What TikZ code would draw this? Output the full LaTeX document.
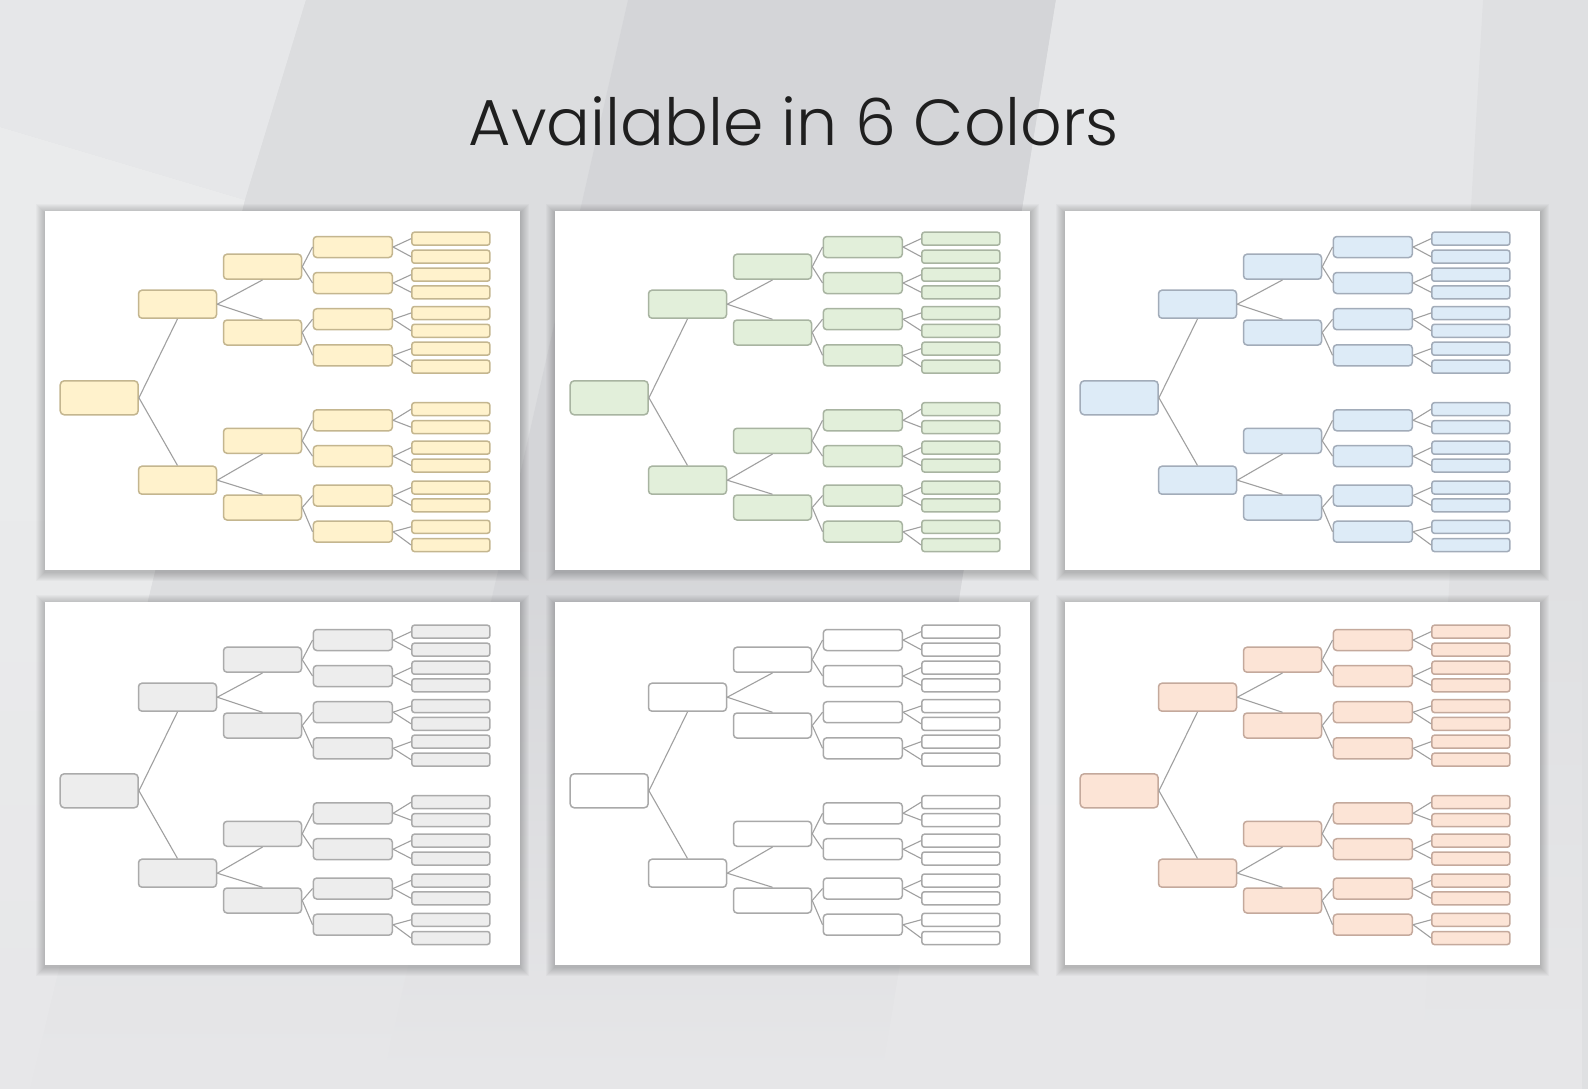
\documentclass[tikz,border=0pt]{standalone}
\usepackage{fontspec}
\newfontfamily\titlefont{Poppins Light}
\usetikzlibrary{fadings}
\definecolor{bgbase}{HTML}{E0E1E3}
\definecolor{bgA}{HTML}{E6E7E9}
\definecolor{bgB}{HTML}{EAEBEC}
\definecolor{bgC}{HTML}{DCDDDF}
\definecolor{bgD}{HTML}{D4D5D8}
\definecolor{bgE}{HTML}{E5E6E8}
\definecolor{bgF}{HTML}{E7E7E9}
\definecolor{lnc}{HTML}{A0A0A0}
\definecolor{yfill}{HTML}{FFF2CC}\definecolor{ybord}{HTML}{C4B68F}
\definecolor{gfill}{HTML}{E2EFDA}\definecolor{gbord}{HTML}{A8B4A1}
\definecolor{bfill}{HTML}{DDEBF7}\definecolor{bbord}{HTML}{A2ACB9}
\definecolor{kfill}{HTML}{EDEDED}\definecolor{kbord}{HTML}{ABABAB}
\definecolor{wfill}{HTML}{FFFFFF}\definecolor{wbord}{HTML}{A9A9A9}
\definecolor{pfill}{HTML}{FCE4D6}\definecolor{pbord}{HTML}{C4A99C}
\colorlet{fl}{white}\colorlet{bd}{gray}
\tikzset{
  bx/.style={draw=bd, fill=fl, line width=1.5pt, rounded corners=3.5pt, inner sep=0pt},
  r0/.style={bx, minimum width=78pt, minimum height=34pt, rounded corners=4pt},
  l1/.style={bx, minimum width=78pt, minimum height=28pt},
  l2/.style={bx, minimum width=78pt, minimum height=25pt},
  l3/.style={bx, minimum width=79pt, minimum height=21pt},
  l4/.style={bx, minimum width=78pt, minimum height=13pt, rounded corners=2.5pt},
  ln/.style={draw=lnc, line width=1.1pt},
  panel/.style={fill=white, draw=none, inner sep=0pt, anchor=north west, minimum width=475pt},
  shadowstep/.style={fill=black, opacity=0.022},
}
\newcommand\panelat[4]{% #1 name, #2 x, #3 y, #4 height
  \foreach \s in {1,...,9}{
    \fill[shadowstep] ({#2-\s},{#3-\s+1.5}) rectangle ({#2+475+\s},{#3+#4+\s+1.5});
  }
  \node[panel, minimum height=#4pt] (#1) at (#2,#3) {};
}
\newcommand\drawtree[5]{% #1 prefix, #2 fill, #3 border, #4 x, #5 y
  \begin{scope}[shift={(#4,#5)}]
    \colorlet{fl}{#2}\colorlet{bd}{#3}
    \node[r0] (#1r) at (54.2,186.8) {};
    \node[l1] (#1a) at (132.5,93.2) {};
    \node[l1] (#1b) at (132.5,269.2) {};
    \foreach \i/\y in {1/55.7,2/121.5,3/229.8,4/296.5}
      \node[l2] (#1c\i) at (217.5,\y) {};
    \foreach \i/\y in {1/36,2/72,3/108.2,4/144.3,5/209.3,6/245.2,7/284.5,8/320.7}
      \node[l3] (#1d\i) at (307.8,\y) {};
    \foreach \i/\y in {1/27.7,2/45.7,3/63.7,4/81.3,5/102,6/119.8,7/137.7,8/155.7,
                       9/198.2,10/216.2,11/236.7,12/254.5,13/276.5,14/294.3,15/315.8,16/334}
      \node[l4] (#1e\i) at (405.85,\y) {};
    \draw[ln] (#1r.east) -- (#1a.south);
    \draw[ln] (#1r.east) -- (#1b.north);
    \draw[ln] (#1a.east) -- (#1c1.south);
    \draw[ln] (#1a.east) -- (#1c2.north);
    \draw[ln] (#1b.east) -- (#1c3.south);
    \draw[ln] (#1b.east) -- (#1c4.north);
    \foreach \j in {1,...,8}{
      \pgfmathtruncatemacro\p{(\j+1)/2}
      \draw[ln] (#1c\p.east) -- (#1d\j.west);
    }
    \foreach \k in {1,...,16}{
      \pgfmathtruncatemacro\q{(\k+1)/2}
      \draw[ln] (#1d\q.east) -- (#1e\k.west);
    }
  \end{scope}}
\begin{document}
\begin{tikzpicture}[x=1pt,y=-1pt]
\useasboundingbox (0,0) rectangle (1588,1089);
% background facets
\fill[bgbase] (0,0) rectangle (1588,1089);
\fill[bgA] (0,0) -- (306,0) -- (245,200) -- (0,127) -- cycle;
\fill[bgB] (0,127) -- (245,200) -- (30,1089) -- (0,1089) -- cycle;
\fill[bgC] (306,0) -- (628,0) -- (380,1089) -- (30,1089) -- (245,200) -- cycle;
\fill[bgD] (628,0) -- (1056,0) -- (880,1089) -- (380,1089) -- cycle;
\fill[bgE] (1056,0) -- (1588,0) -- (1588,1089) -- (880,1089) -- cycle;
\fill[black, opacity=0.025] (1483,0) -- (1588,0) -- (1588,1089) -- (1420,1089) -- cycle;
% lighter lower part
\fill[bgF, path fading=north] (0,520) rectangle (1588,1089);
% title
\node[anchor=base, font=\titlefont\fontsize{65}{70}\selectfont, text=black!88] (title) at (794,146) {Available in 6 Colors};
% panels
\panelat{p1}{45}{211}{359}
\panelat{p2}{555}{211}{359}
\panelat{p3}{1065}{211}{359}
\panelat{p4}{45}{602}{363}
\panelat{p5}{555}{602}{363}
\panelat{p6}{1065}{602}{363}
% trees
\drawtree{y}{yfill}{ybord}{45}{211}
\drawtree{g}{gfill}{gbord}{555}{211}
\drawtree{b}{bfill}{bbord}{1065}{211}
\drawtree{k}{kfill}{kbord}{45}{604}
\drawtree{w}{wfill}{wbord}{555}{604}
\drawtree{p}{pfill}{pbord}{1065}{604}
\end{tikzpicture}
\end{document}
